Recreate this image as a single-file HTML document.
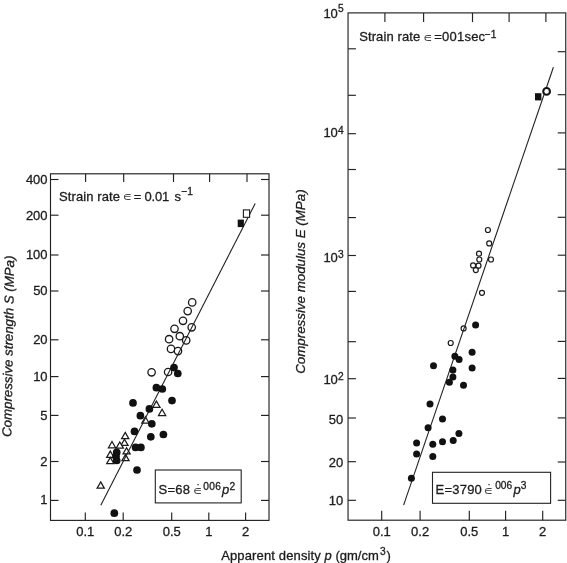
<!DOCTYPE html>
<html lang="en">
<head>
<meta charset="utf-8">
<title>Compressive strength and modulus vs apparent density</title>
<style>
html,body{margin:0;padding:0;background:#fff;}
body{width:567px;height:563px;overflow:hidden;}
svg{display:block;}
svg text{font-family:"Liberation Sans","DejaVu Sans",sans-serif;fill:#1c1c1c;stroke:#1c1c1c;stroke-width:0.3px;}
svg text.eps{font-family:"DejaVu Sans","Liberation Sans",sans-serif;font-size:13.2px;fill:#444;stroke:none;}
svg text.dot{fill:#333;stroke:none;}
</style>
</head>
<body>
<svg width="567" height="563" viewBox="0 0 567 563">
<rect width="567" height="563" fill="#fff"/>
<g id="left-chart">
<circle cx="192.2" cy="302.4" r="3.7" fill="#fff" stroke="#1a1a1a" stroke-width="1.3"/>
<circle cx="187.7" cy="311.1" r="3.7" fill="#fff" stroke="#1a1a1a" stroke-width="1.3"/>
<circle cx="183.0" cy="320.8" r="3.7" fill="#fff" stroke="#1a1a1a" stroke-width="1.3"/>
<circle cx="174.5" cy="328.8" r="3.7" fill="#fff" stroke="#1a1a1a" stroke-width="1.3"/>
<circle cx="191.7" cy="327.3" r="3.7" fill="#fff" stroke="#1a1a1a" stroke-width="1.3"/>
<circle cx="179.8" cy="336.2" r="3.7" fill="#fff" stroke="#1a1a1a" stroke-width="1.3"/>
<circle cx="169.1" cy="339.2" r="3.7" fill="#fff" stroke="#1a1a1a" stroke-width="1.3"/>
<circle cx="186.2" cy="340.4" r="3.7" fill="#fff" stroke="#1a1a1a" stroke-width="1.3"/>
<circle cx="171.0" cy="348.9" r="3.7" fill="#fff" stroke="#1a1a1a" stroke-width="1.3"/>
<circle cx="178.0" cy="351.1" r="3.7" fill="#fff" stroke="#1a1a1a" stroke-width="1.3"/>
<circle cx="151.6" cy="372.3" r="3.7" fill="#fff" stroke="#1a1a1a" stroke-width="1.3"/>
<circle cx="168.1" cy="372.0" r="3.7" fill="#fff" stroke="#1a1a1a" stroke-width="1.3"/>
<polygon points="156.4,401.1 160.0,407.3 152.8,407.3" fill="#fff" stroke="#1a1a1a" stroke-width="1.25" stroke-linejoin="miter"/>
<polygon points="162.1,409.2 165.7,415.5 158.5,415.5" fill="#fff" stroke="#1a1a1a" stroke-width="1.25" stroke-linejoin="miter"/>
<polygon points="145.4,416.8 149.0,423.0 141.8,423.0" fill="#fff" stroke="#1a1a1a" stroke-width="1.25" stroke-linejoin="miter"/>
<polygon points="125.2,432.4 128.8,438.6 121.6,438.6" fill="#fff" stroke="#1a1a1a" stroke-width="1.25" stroke-linejoin="miter"/>
<polygon points="124.5,439.2 128.1,445.4 120.9,445.4" fill="#fff" stroke="#1a1a1a" stroke-width="1.25" stroke-linejoin="miter"/>
<polygon points="112.0,441.5 115.6,447.8 108.4,447.8" fill="#fff" stroke="#1a1a1a" stroke-width="1.25" stroke-linejoin="miter"/>
<polygon points="119.8,442.0 123.4,448.2 116.2,448.2" fill="#fff" stroke="#1a1a1a" stroke-width="1.25" stroke-linejoin="miter"/>
<polygon points="126.6,447.7 130.2,453.9 123.0,453.9" fill="#fff" stroke="#1a1a1a" stroke-width="1.25" stroke-linejoin="miter"/>
<polygon points="110.3,451.1 113.9,457.3 106.7,457.3" fill="#fff" stroke="#1a1a1a" stroke-width="1.25" stroke-linejoin="miter"/>
<polygon points="125.5,454.4 129.1,460.6 121.9,460.6" fill="#fff" stroke="#1a1a1a" stroke-width="1.25" stroke-linejoin="miter"/>
<polygon points="110.3,457.4 113.9,463.6 106.7,463.6" fill="#fff" stroke="#1a1a1a" stroke-width="1.25" stroke-linejoin="miter"/>
<polygon points="100.7,481.9 104.3,488.1 97.1,488.1" fill="#fff" stroke="#1a1a1a" stroke-width="1.25" stroke-linejoin="miter"/>
<line x1="255.2" y1="203.5" x2="100.8" y2="505.2" stroke="#222" stroke-width="1.1"/>
<circle cx="174.0" cy="367.6" r="3.85" fill="#111"/>
<circle cx="177.8" cy="373.5" r="3.85" fill="#111"/>
<circle cx="156.4" cy="387.7" r="3.85" fill="#111"/>
<circle cx="162.3" cy="389.0" r="3.85" fill="#111"/>
<circle cx="172.0" cy="400.6" r="3.85" fill="#111"/>
<circle cx="133.0" cy="402.9" r="3.85" fill="#111"/>
<circle cx="149.4" cy="408.9" r="3.85" fill="#111"/>
<circle cx="140.4" cy="415.7" r="3.85" fill="#111"/>
<circle cx="151.8" cy="423.8" r="3.85" fill="#111"/>
<circle cx="134.5" cy="431.4" r="3.85" fill="#111"/>
<circle cx="163.4" cy="434.5" r="3.85" fill="#111"/>
<circle cx="150.8" cy="436.8" r="3.85" fill="#111"/>
<circle cx="135.6" cy="447.4" r="3.85" fill="#111"/>
<circle cx="140.9" cy="447.4" r="3.85" fill="#111"/>
<circle cx="116.7" cy="452.4" r="3.85" fill="#111"/>
<circle cx="116.0" cy="456.5" r="3.85" fill="#111"/>
<circle cx="116.7" cy="460.5" r="3.85" fill="#111"/>
<circle cx="137.0" cy="470.0" r="3.85" fill="#111"/>
<circle cx="114.3" cy="513.2" r="3.85" fill="#111"/>
<rect x="243.4" y="209.9" width="6.2" height="7.4" fill="#fff" stroke="#1a1a1a" stroke-width="1.1"/>
<rect x="237.7" y="219.6" width="6.2" height="7.5" fill="#111"/>
<rect x="50.5" y="173.8" width="218.5" height="346.6" fill="none" stroke="#222" stroke-width="1.15"/>
<line x1="50.5" y1="179.5" x2="58.5" y2="179.5" stroke="#222" stroke-width="1.15"/>
<line x1="269.0" y1="179.5" x2="261.0" y2="179.5" stroke="#222" stroke-width="1.15"/>
<text x="47.6" y="183.8" font-size="13" text-anchor="end">400</text>
<line x1="50.5" y1="215.2" x2="58.5" y2="215.2" stroke="#222" stroke-width="1.15"/>
<line x1="269.0" y1="215.2" x2="261.0" y2="215.2" stroke="#222" stroke-width="1.15"/>
<text x="47.6" y="219.5" font-size="13" text-anchor="end">200</text>
<line x1="50.5" y1="255.0" x2="58.5" y2="255.0" stroke="#222" stroke-width="1.15"/>
<line x1="269.0" y1="255.0" x2="261.0" y2="255.0" stroke="#222" stroke-width="1.15"/>
<text x="47.6" y="259.3" font-size="13" text-anchor="end">100</text>
<line x1="50.5" y1="291.0" x2="58.5" y2="291.0" stroke="#222" stroke-width="1.15"/>
<line x1="269.0" y1="291.0" x2="261.0" y2="291.0" stroke="#222" stroke-width="1.15"/>
<text x="47.6" y="295.3" font-size="13" text-anchor="end">50</text>
<line x1="50.5" y1="339.8" x2="58.5" y2="339.8" stroke="#222" stroke-width="1.15"/>
<line x1="269.0" y1="339.8" x2="261.0" y2="339.8" stroke="#222" stroke-width="1.15"/>
<text x="47.6" y="344.1" font-size="13" text-anchor="end">20</text>
<line x1="50.5" y1="376.6" x2="58.5" y2="376.6" stroke="#222" stroke-width="1.15"/>
<line x1="269.0" y1="376.6" x2="261.0" y2="376.6" stroke="#222" stroke-width="1.15"/>
<text x="47.6" y="380.9" font-size="13" text-anchor="end">10</text>
<line x1="50.5" y1="415.4" x2="58.5" y2="415.4" stroke="#222" stroke-width="1.15"/>
<line x1="269.0" y1="415.4" x2="261.0" y2="415.4" stroke="#222" stroke-width="1.15"/>
<text x="47.6" y="419.7" font-size="13" text-anchor="end">5</text>
<line x1="50.5" y1="461.5" x2="58.5" y2="461.5" stroke="#222" stroke-width="1.15"/>
<line x1="269.0" y1="461.5" x2="261.0" y2="461.5" stroke="#222" stroke-width="1.15"/>
<text x="47.6" y="465.8" font-size="13" text-anchor="end">2</text>
<line x1="50.5" y1="500.4" x2="58.5" y2="500.4" stroke="#222" stroke-width="1.15"/>
<line x1="269.0" y1="500.4" x2="261.0" y2="500.4" stroke="#222" stroke-width="1.15"/>
<text x="47.6" y="503.7" font-size="13" text-anchor="end">1</text>
<line x1="85.6" y1="173.8" x2="85.6" y2="182.0" stroke="#222" stroke-width="1.15"/>
<line x1="85.3" y1="520.4" x2="85.3" y2="512.4" stroke="#222" stroke-width="1.15"/>
<text x="85.3" y="535.8" font-size="13" text-anchor="middle">0.1</text>
<line x1="123.7" y1="173.8" x2="123.7" y2="182.0" stroke="#222" stroke-width="1.15"/>
<line x1="123.2" y1="520.4" x2="123.2" y2="512.4" stroke="#222" stroke-width="1.15"/>
<text x="123.2" y="535.8" font-size="13" text-anchor="middle">0.2</text>
<line x1="173.5" y1="173.8" x2="173.5" y2="182.0" stroke="#222" stroke-width="1.15"/>
<line x1="171.7" y1="520.4" x2="171.7" y2="512.4" stroke="#222" stroke-width="1.15"/>
<text x="171.7" y="535.8" font-size="13" text-anchor="middle">0.5</text>
<line x1="209.6" y1="173.8" x2="209.6" y2="182.0" stroke="#222" stroke-width="1.15"/>
<line x1="208.8" y1="520.4" x2="208.8" y2="512.4" stroke="#222" stroke-width="1.15"/>
<text x="208.8" y="535.8" font-size="13" text-anchor="middle">1</text>
<line x1="247.0" y1="173.8" x2="247.0" y2="182.0" stroke="#222" stroke-width="1.15"/>
<line x1="245.6" y1="520.4" x2="245.6" y2="512.4" stroke="#222" stroke-width="1.15"/>
<text x="245.6" y="535.8" font-size="13" text-anchor="middle">2</text>
<text x="59.0" y="200.6" font-size="13" textLength="61.0" lengthAdjust="spacing">Strain rate</text>
<text x="122.6" y="201.2" font-size="13" class="eps">∊</text>
<text x="133.8" y="200.6" font-size="13">=</text>
<text x="144.6" y="200.6" font-size="13" textLength="24.6" lengthAdjust="spacing">0.01</text>
<text x="174.4" y="200.6" font-size="13">s</text>
<text x="181.4" y="195.2" font-size="10.2">−1</text>
<rect x="155.3" y="470.0" width="85.9" height="32.9" fill="#fff" stroke="#222" stroke-width="1.1"/>
<text x="158.6" y="494.0" font-size="13" textLength="31.4" lengthAdjust="spacing">S=68</text>
<text x="192.7" y="495.0" font-size="13" class="eps">∊</text>
<text x="196.2" y="495.0" font-size="15" class="dot">˙</text>
<text x="203.2" y="489.7" font-size="10.2" textLength="17.6" lengthAdjust="spacing">006</text>
<text x="222.0" y="494.0" font-size="13" font-style="italic">p</text>
<text x="229.4" y="489.5" font-size="10.2">2</text>
<text transform="translate(11.3,437.0) rotate(-89.1)" font-size="13" font-style="italic" textLength="181.4" lengthAdjust="spacingAndGlyphs">Compressive strength S (MPa)</text>
</g>
<g id="right-chart">
<circle cx="487.9" cy="230.0" r="2.5" fill="#fff" stroke="#1a1a1a" stroke-width="1.2"/>
<circle cx="489.2" cy="243.4" r="2.5" fill="#fff" stroke="#1a1a1a" stroke-width="1.2"/>
<circle cx="479.0" cy="253.7" r="2.5" fill="#fff" stroke="#1a1a1a" stroke-width="1.2"/>
<circle cx="479.3" cy="259.5" r="2.5" fill="#fff" stroke="#1a1a1a" stroke-width="1.2"/>
<circle cx="491.0" cy="259.5" r="2.5" fill="#fff" stroke="#1a1a1a" stroke-width="1.2"/>
<circle cx="473.1" cy="265.4" r="2.5" fill="#fff" stroke="#1a1a1a" stroke-width="1.2"/>
<circle cx="478.5" cy="265.7" r="2.5" fill="#fff" stroke="#1a1a1a" stroke-width="1.2"/>
<circle cx="475.8" cy="270.1" r="2.5" fill="#fff" stroke="#1a1a1a" stroke-width="1.2"/>
<circle cx="482.0" cy="292.8" r="2.5" fill="#fff" stroke="#1a1a1a" stroke-width="1.2"/>
<circle cx="463.6" cy="328.4" r="2.5" fill="#fff" stroke="#1a1a1a" stroke-width="1.2"/>
<circle cx="450.7" cy="343.0" r="2.5" fill="#fff" stroke="#1a1a1a" stroke-width="1.2"/>
<line x1="553.4" y1="67.2" x2="403.6" y2="505.1" stroke="#222" stroke-width="1.1"/>
<circle cx="475.6" cy="325.1" r="3.5" fill="#111"/>
<circle cx="472.1" cy="352.2" r="3.5" fill="#111"/>
<circle cx="454.9" cy="356.2" r="3.5" fill="#111"/>
<circle cx="459.1" cy="359.5" r="3.5" fill="#111"/>
<circle cx="433.5" cy="365.7" r="3.5" fill="#111"/>
<circle cx="472.1" cy="367.9" r="3.5" fill="#111"/>
<circle cx="452.9" cy="369.9" r="3.5" fill="#111"/>
<circle cx="452.9" cy="376.9" r="3.5" fill="#111"/>
<circle cx="449.4" cy="382.2" r="3.5" fill="#111"/>
<circle cx="463.5" cy="385.2" r="3.5" fill="#111"/>
<circle cx="430.0" cy="404.1" r="3.5" fill="#111"/>
<circle cx="442.5" cy="419.1" r="3.5" fill="#111"/>
<circle cx="428.1" cy="427.8" r="3.5" fill="#111"/>
<circle cx="458.9" cy="433.5" r="3.5" fill="#111"/>
<circle cx="453.2" cy="440.4" r="3.5" fill="#111"/>
<circle cx="442.5" cy="441.7" r="3.5" fill="#111"/>
<circle cx="416.6" cy="442.9" r="3.5" fill="#111"/>
<circle cx="432.8" cy="444.2" r="3.5" fill="#111"/>
<circle cx="416.6" cy="454.1" r="3.5" fill="#111"/>
<circle cx="432.8" cy="456.6" r="3.5" fill="#111"/>
<circle cx="411.4" cy="478.3" r="3.5" fill="#111"/>
<rect x="535.0" y="93.2" width="6.4" height="7.2" fill="#111"/>
<circle cx="546.6" cy="91.4" r="3.35" fill="#fff" stroke="#111" stroke-width="2.1"/>
<rect x="348.05" y="12.9" width="217.7" height="507.3" fill="none" stroke="#222" stroke-width="1.15"/>
<text x="323.4" y="17.6" font-size="13">10</text>
<text x="338.0" y="12.0" font-size="10.2">5</text>
<line x1="348.1" y1="48.8" x2="355.9" y2="48.8" stroke="#222" stroke-width="1.15"/>
<line x1="565.7" y1="51.7" x2="557.7" y2="51.7" stroke="#222" stroke-width="1.15"/>
<line x1="348.1" y1="95.3" x2="355.9" y2="95.3" stroke="#222" stroke-width="1.15"/>
<line x1="565.7" y1="94.7" x2="557.7" y2="94.7" stroke="#222" stroke-width="1.15"/>
<line x1="348.1" y1="133.7" x2="355.9" y2="133.7" stroke="#222" stroke-width="1.15"/>
<line x1="565.7" y1="132.9" x2="557.7" y2="132.9" stroke="#222" stroke-width="1.15"/>
<text x="323.4" y="137.2" font-size="13">10</text>
<text x="338.0" y="134.3" font-size="10.2">4</text>
<line x1="348.1" y1="169.5" x2="355.9" y2="169.5" stroke="#222" stroke-width="1.15"/>
<line x1="565.7" y1="169.2" x2="557.7" y2="169.2" stroke="#222" stroke-width="1.15"/>
<line x1="348.1" y1="217.6" x2="355.9" y2="217.6" stroke="#222" stroke-width="1.15"/>
<line x1="565.7" y1="217.3" x2="557.7" y2="217.3" stroke="#222" stroke-width="1.15"/>
<line x1="348.1" y1="255.5" x2="355.9" y2="255.5" stroke="#222" stroke-width="1.15"/>
<line x1="565.7" y1="255.2" x2="557.7" y2="255.2" stroke="#222" stroke-width="1.15"/>
<text x="323.4" y="261.8" font-size="13">10</text>
<text x="338.0" y="257.8" font-size="10.2">3</text>
<line x1="348.1" y1="291.4" x2="355.9" y2="291.4" stroke="#222" stroke-width="1.15"/>
<line x1="565.7" y1="291.1" x2="557.7" y2="291.1" stroke="#222" stroke-width="1.15"/>
<line x1="348.1" y1="341.7" x2="355.9" y2="341.7" stroke="#222" stroke-width="1.15"/>
<line x1="565.7" y1="341.4" x2="557.7" y2="341.4" stroke="#222" stroke-width="1.15"/>
<line x1="348.1" y1="378.7" x2="355.9" y2="378.7" stroke="#222" stroke-width="1.15"/>
<line x1="565.7" y1="378.4" x2="557.7" y2="378.4" stroke="#222" stroke-width="1.15"/>
<text x="323.4" y="383.6" font-size="13">10</text>
<text x="338.0" y="380.3" font-size="10.2">2</text>
<line x1="348.1" y1="418.0" x2="355.9" y2="418.0" stroke="#222" stroke-width="1.15"/>
<line x1="565.7" y1="417.9" x2="557.7" y2="417.9" stroke="#222" stroke-width="1.15"/>
<text x="343.2" y="424.3" font-size="13" text-anchor="end">50</text>
<line x1="348.1" y1="461.7" x2="355.9" y2="461.7" stroke="#222" stroke-width="1.15"/>
<line x1="565.7" y1="462.0" x2="557.7" y2="462.0" stroke="#222" stroke-width="1.15"/>
<text x="343.2" y="467.3" font-size="13" text-anchor="end">20</text>
<line x1="348.1" y1="500.3" x2="355.9" y2="500.3" stroke="#222" stroke-width="1.15"/>
<line x1="565.7" y1="500.3" x2="557.7" y2="500.3" stroke="#222" stroke-width="1.15"/>
<text x="343.2" y="505.2" font-size="13" text-anchor="end">10</text>
<line x1="384.9" y1="12.9" x2="384.9" y2="22.1" stroke="#222" stroke-width="1.15"/>
<line x1="381.7" y1="520.2" x2="381.7" y2="510.8" stroke="#222" stroke-width="1.15"/>
<text x="381.7" y="535.8" font-size="13" text-anchor="middle">0.1</text>
<line x1="423.6" y1="12.9" x2="423.6" y2="22.1" stroke="#222" stroke-width="1.15"/>
<line x1="420.1" y1="520.2" x2="420.1" y2="510.8" stroke="#222" stroke-width="1.15"/>
<text x="420.1" y="535.8" font-size="13" text-anchor="middle">0.2</text>
<line x1="472.5" y1="12.9" x2="472.5" y2="22.1" stroke="#222" stroke-width="1.15"/>
<line x1="469.3" y1="520.2" x2="469.3" y2="510.8" stroke="#222" stroke-width="1.15"/>
<text x="469.3" y="535.8" font-size="13" text-anchor="middle">0.5</text>
<line x1="509.1" y1="12.9" x2="509.1" y2="22.1" stroke="#222" stroke-width="1.15"/>
<line x1="505.6" y1="520.2" x2="505.6" y2="510.8" stroke="#222" stroke-width="1.15"/>
<text x="505.6" y="535.8" font-size="13" text-anchor="middle">1</text>
<line x1="545.9" y1="12.9" x2="545.9" y2="22.1" stroke="#222" stroke-width="1.15"/>
<line x1="542.7" y1="520.2" x2="542.7" y2="510.8" stroke="#222" stroke-width="1.15"/>
<text x="542.7" y="535.8" font-size="13" text-anchor="middle">2</text>
<text x="359.2" y="40.5" font-size="13" textLength="61.0" lengthAdjust="spacing">Strain rate</text>
<text x="422.9" y="41.5" font-size="13" class="eps">∊</text>
<text x="434.2" y="40.6" font-size="13" textLength="50.9" lengthAdjust="spacing">=001sec</text>
<text x="484.7" y="38.1" font-size="10.2">−1</text>
<rect x="432.5" y="472.3" width="118.1" height="31.0" fill="#fff" stroke="#222" stroke-width="1.1"/>
<text x="435.6" y="493.9" font-size="13" textLength="46.2" lengthAdjust="spacing">E=3790</text>
<text x="483.4" y="495.2" font-size="13" class="eps">∊</text>
<text x="487.2" y="495.4" font-size="15" class="dot">˙</text>
<text x="495.2" y="489.4" font-size="10.2">006</text>
<text x="513.4" y="493.9" font-size="13" font-style="italic">p</text>
<text x="520.7" y="489.4" font-size="10.2">3</text>
<text transform="translate(305.4,373.8) rotate(-90)" font-size="13" font-style="italic" textLength="184.4" lengthAdjust="spacingAndGlyphs">Compressive modulus E (MPa)</text>
</g>
<text x="221.2" y="559.6" font-size="13" textLength="99.6" lengthAdjust="spacing">Apparent density</text>
<text x="324.6" y="559.6" font-size="13" font-style="italic">p</text>
<text x="335.4" y="559.6" font-size="13">(gm/cm</text>
<text x="380.0" y="554.8" font-size="10.2">3</text>
<text x="386.4" y="559.6" font-size="13">)</text>
</svg>
</body>
</html>
